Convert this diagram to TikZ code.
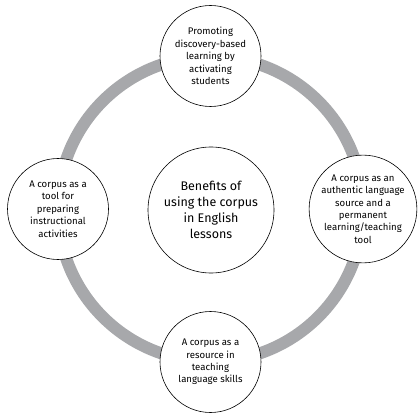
\documentclass[tikz,border=0pt]{standalone}
\usepackage{fontspec}
\setmainfont{Fira Sans}
\begin{document}
\begin{tikzpicture}[x=1pt,y=-1pt,
  ringc/.style={draw=black, line width=0.6pt, fill=white, circle, minimum size=101pt, inner sep=0pt, align=center, font=\fontsize{9.6}{12.4}\selectfont, text=black},
  ctr/.style={draw=black, line width=0.6pt, fill=white, circle, minimum size=126pt, inner sep=0pt, align=center, font=\fontsize{12.5}{16}\selectfont, text=black}]
\useasboundingbox (0,0) rectangle (419,419);
\definecolor{ringgray}{HTML}{A7A8AB}
\coordinate (o) at (210.5,209);
\draw[ringgray, line width=12pt] (o) circle[radius=152.5];
\node[ringc] (top) at (210.5,56) {Promoting\\discovery-based\\learning by\\activating\\students};
\node[ringc] (left) at (58,209) {A corpus as a\\tool for\\preparing\\instructional\\activities};
\node[ringc] (right) at (363,209) {A corpus as an\\authentic language\\source and a\\permanent\\learning/teaching\\tool};
\node[ringc] (bottom) at (210.5,362) {A corpus as a\\resource in\\teaching\\language skills};
\node[ctr] (center) at (211,210) {Benefits of\\using the corpus\\in English\\lessons};
\end{tikzpicture}
\end{document}
